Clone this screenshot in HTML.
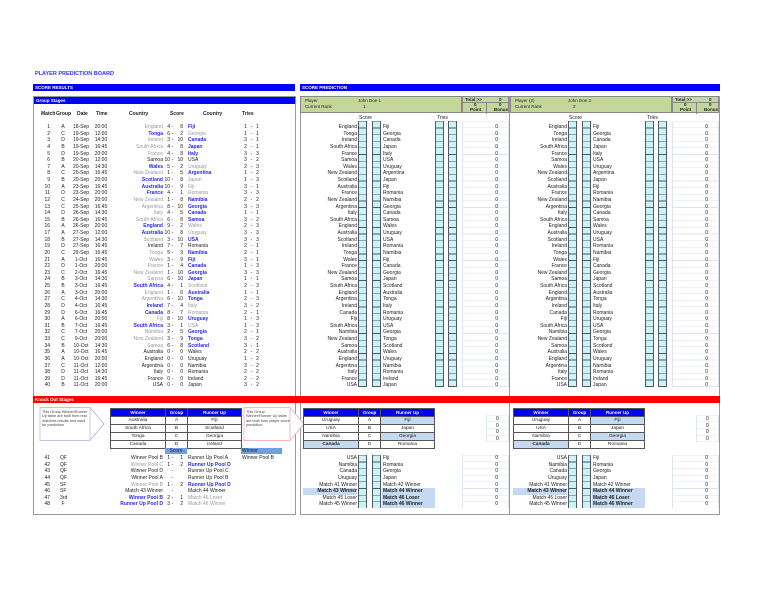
<!DOCTYPE html>
<html><head><meta charset="utf-8"><style>
*{margin:0;padding:0;box-sizing:border-box}
body{width:768px;height:593px;background:#fff;position:relative;overflow:hidden;font-family:"Liberation Sans",sans-serif;font-size:5px;color:#222}
.ab{position:absolute}
.bar{position:absolute;height:7px;color:#fff;font-weight:bold;font-size:4.5px;line-height:7px;padding-left:2px}
.rows{position:absolute;top:124px;left:0;width:300px}
.rows>div{position:relative;height:6.63px;line-height:6.63px;white-space:nowrap}
.rows i{position:absolute;font-style:normal}
.a{left:38px;width:12px;text-align:right}.b{left:60px;width:6px;text-align:center}.c{left:72px;width:18px;text-align:center}.d{left:94px;width:14px;text-align:center}
.e{left:113px;width:50px;text-align:right}.f{left:164px;width:6px;text-align:right}.h{left:171px;width:3px;text-align:center}.j{left:175px;width:8px;text-align:right}.k{left:188px}
.l{left:243px;width:5px;text-align:center}.m{left:249px;width:5px;text-align:center}.n{left:255px;width:5px;text-align:center}
.w{color:#2a2ae8;font-weight:bold}.g{color:#9a9a9a}
.pr{position:absolute;top:124px;width:210px}
.pr>div{position:relative;height:6.63px;line-height:6.63px;white-space:nowrap}
.pr i{position:absolute;font-style:normal}
.ph{left:0;width:57px;text-align:right}.pa{left:83px}.pz{left:192px;width:6px;text-align:right}
.bx{position:absolute;width:9px;border-left:0.7px solid #556;border-right:0.7px solid #556;background:repeating-linear-gradient(#556 0 0.7px,#c8f4f4 0.7px 6.63px)}
.pts{position:absolute;width:47px;background:repeating-linear-gradient(#dce6f2 0 0.6px,transparent 0.6px 6.63px);border-left:0.6px solid #dce6f2;border-right:0.6px solid #dce6f2}
table{border-collapse:collapse;position:absolute;font-size:4.8px}
td{border:0.7px solid #555;text-align:center;height:8px;line-height:7px;padding:0}
th{background:#0000ff;color:#fff;border:0.7px solid #555;height:8px;font-size:4.5px}
.lb{background:#c5d9f1}
.grn{position:absolute;background:#c4d79b;border:0.7px solid #888;font-size:4.5px}
</style></head><body>
<div class="ab" style="left:35px;top:71px;color:#3333ff;font-weight:bold;font-size:5.5px">PLAYER PREDICTION BOARD</div>
<div class="bar" style="left:33px;top:84px;width:262px;background:#0000ff">SCORE RESULTS</div>
<div class="bar" style="left:300px;top:84px;width:420px;background:#0000ff">SCORE PREDICTION</div>
<div class="ab" style="left:33px;top:96px;width:263px;height:419px;border:1px solid #999"></div>
<div class="bar" style="left:34px;top:97px;width:261px;background:#0000ff">Group Stages</div>
<div class="ab" style="left:300px;top:96px;width:420px;height:419px;border:1px solid #999"></div>
<div class="ab" style="left:509px;top:96px;width:1px;height:419px;background:#999"></div>
<div class="ab" style="top:111px;left:0;width:300px;font-weight:bold;line-height:6px">
<span class="ab" style="left:41px">Match</span><span class="ab" style="left:56px">Group</span><span class="ab" style="left:77px">Date</span><span class="ab" style="left:96px">Time</span><span class="ab" style="left:129px">Country</span><span class="ab" style="left:170px">Score</span><span class="ab" style="left:203px">Country</span><span class="ab" style="left:242px">Tries</span></div>
<div class="rows">
<div><i class=a>1</i><i class=b>A</i><i class=c>18-Sep</i><i class=d>20:00</i><i class="e g">England</i><i class=f>4</i><i class=h>-</i><i class=j>8</i><i class="k w">Fiji</i><i class=l>1</i><i class=m>-</i><i class=n>1</i></div>
<div><i class=a>2</i><i class=b>C</i><i class=c>19-Sep</i><i class=d>12:00</i><i class="e w">Tonga</i><i class=f>6</i><i class=h>-</i><i class=j>2</i><i class="k g">Georgia</i><i class=l>1</i><i class=m>-</i><i class=n>1</i></div>
<div><i class=a>3</i><i class=b>D</i><i class=c>19-Sep</i><i class=d>14:30</i><i class="e g">Ireland</i><i class=f>3</i><i class=h>-</i><i class=j>10</i><i class="k w">Canada</i><i class=l>3</i><i class=m>-</i><i class=n>1</i></div>
<div><i class=a>4</i><i class=b>B</i><i class=c>19-Sep</i><i class=d>16:45</i><i class="e g">South Africa</i><i class=f>4</i><i class=h>-</i><i class=j>8</i><i class="k w">Japan</i><i class=l>2</i><i class=m>-</i><i class=n>1</i></div>
<div><i class=a>5</i><i class=b>D</i><i class=c>19-Sep</i><i class=d>20:00</i><i class="e g">France</i><i class=f>4</i><i class=h>-</i><i class=j>8</i><i class="k w">Italy</i><i class=l>3</i><i class=m>-</i><i class=n>3</i></div>
<div><i class=a>6</i><i class=b>B</i><i class=c>20-Sep</i><i class=d>12:00</i><i class=e>Samoa</i><i class=f>10</i><i class=h>-</i><i class=j>10</i><i class=k>USA</i><i class=l>3</i><i class=m>-</i><i class=n>2</i></div>
<div><i class=a>7</i><i class=b>A</i><i class=c>20-Sep</i><i class=d>14:30</i><i class="e w">Wales</i><i class=f>5</i><i class=h>-</i><i class=j>2</i><i class="k g">Uruguay</i><i class=l>2</i><i class=m>-</i><i class=n>3</i></div>
<div><i class=a>8</i><i class=b>C</i><i class=c>20-Sep</i><i class=d>16:45</i><i class="e g">New Zealand</i><i class=f>1</i><i class=h>-</i><i class=j>5</i><i class="k w">Argentina</i><i class=l>1</i><i class=m>-</i><i class=n>2</i></div>
<div><i class=a>9</i><i class=b>B</i><i class=c>20-Sep</i><i class=d>20:00</i><i class="e w">Scotland</i><i class=f>10</i><i class=h>-</i><i class=j>8</i><i class="k g">Japan</i><i class=l>1</i><i class=m>-</i><i class=n>3</i></div>
<div><i class=a>10</i><i class=b>A</i><i class=c>23-Sep</i><i class=d>16:45</i><i class="e w">Australia</i><i class=f>10</i><i class=h>-</i><i class=j>9</i><i class="k g">Fiji</i><i class=l>3</i><i class=m>-</i><i class=n>1</i></div>
<div><i class=a>11</i><i class=b>D</i><i class=c>23-Sep</i><i class=d>20:00</i><i class="e w">France</i><i class=f>4</i><i class=h>-</i><i class=j>1</i><i class="k g">Romania</i><i class=l>3</i><i class=m>-</i><i class=n>3</i></div>
<div><i class=a>12</i><i class=b>C</i><i class=c>24-Sep</i><i class=d>20:00</i><i class="e g">New Zealand</i><i class=f>1</i><i class=h>-</i><i class=j>8</i><i class="k w">Namibia</i><i class=l>2</i><i class=m>-</i><i class=n>2</i></div>
<div><i class=a>13</i><i class=b>C</i><i class=c>25-Sep</i><i class=d>16:45</i><i class="e g">Argentina</i><i class=f>8</i><i class=h>-</i><i class=j>10</i><i class="k w">Georgia</i><i class=l>3</i><i class=m>-</i><i class=n>3</i></div>
<div><i class=a>14</i><i class=b>D</i><i class=c>26-Sep</i><i class=d>14:30</i><i class="e g">Italy</i><i class=f>4</i><i class=h>-</i><i class=j>5</i><i class="k w">Canada</i><i class=l>1</i><i class=m>-</i><i class=n>1</i></div>
<div><i class=a>15</i><i class=b>B</i><i class=c>26-Sep</i><i class=d>16:45</i><i class="e g">South Africa</i><i class=f>6</i><i class=h>-</i><i class=j>8</i><i class="k w">Samoa</i><i class=l>3</i><i class=m>-</i><i class=n>2</i></div>
<div><i class=a>16</i><i class=b>A</i><i class=c>26-Sep</i><i class=d>20:00</i><i class="e w">England</i><i class=f>9</i><i class=h>-</i><i class=j>2</i><i class="k g">Wales</i><i class=l>2</i><i class=m>-</i><i class=n>3</i></div>
<div><i class=a>17</i><i class=b>A</i><i class=c>27-Sep</i><i class=d>12:00</i><i class="e w">Australia</i><i class=f>10</i><i class=h>-</i><i class=j>8</i><i class="k g">Uruguay</i><i class=l>3</i><i class=m>-</i><i class=n>3</i></div>
<div><i class=a>18</i><i class=b>B</i><i class=c>27-Sep</i><i class=d>14:30</i><i class="e g">Scotland</i><i class=f>3</i><i class=h>-</i><i class=j>10</i><i class="k w">USA</i><i class=l>3</i><i class=m>-</i><i class=n>3</i></div>
<div><i class=a>19</i><i class=b>D</i><i class=c>27-Sep</i><i class=d>16:45</i><i class=e>Ireland</i><i class=f>7</i><i class=h>-</i><i class=j>7</i><i class=k>Romania</i><i class=l>2</i><i class=m>-</i><i class=n>1</i></div>
<div><i class=a>20</i><i class=b>C</i><i class=c>29-Sep</i><i class=d>16:45</i><i class="e g">Tonga</i><i class=f>5</i><i class=h>-</i><i class=j>9</i><i class="k w">Namibia</i><i class=l>2</i><i class=m>-</i><i class=n>1</i></div>
<div><i class=a>21</i><i class=b>A</i><i class=c>1-Oct</i><i class=d>16:45</i><i class="e g">Wales</i><i class=f>3</i><i class=h>-</i><i class=j>9</i><i class="k w">Fiji</i><i class=l>3</i><i class=m>-</i><i class=n>1</i></div>
<div><i class=a>22</i><i class=b>D</i><i class=c>1-Oct</i><i class=d>20:00</i><i class="e g">France</i><i class=f>1</i><i class=h>-</i><i class=j>4</i><i class="k w">Canada</i><i class=l>1</i><i class=m>-</i><i class=n>3</i></div>
<div><i class=a>23</i><i class=b>C</i><i class=c>2-Oct</i><i class=d>16:45</i><i class="e g">New Zealand</i><i class=f>1</i><i class=h>-</i><i class=j>10</i><i class="k w">Georgia</i><i class=l>3</i><i class=m>-</i><i class=n>3</i></div>
<div><i class=a>24</i><i class=b>B</i><i class=c>3-Oct</i><i class=d>14:30</i><i class="e g">Samoa</i><i class=f>6</i><i class=h>-</i><i class=j>10</i><i class="k w">Japan</i><i class=l>1</i><i class=m>-</i><i class=n>1</i></div>
<div><i class=a>25</i><i class=b>B</i><i class=c>3-Oct</i><i class=d>16:45</i><i class="e w">South Africa</i><i class=f>4</i><i class=h>-</i><i class=j>1</i><i class="k g">Scotland</i><i class=l>2</i><i class=m>-</i><i class=n>3</i></div>
<div><i class=a>26</i><i class=b>A</i><i class=c>3-Oct</i><i class=d>20:00</i><i class="e g">England</i><i class=f>1</i><i class=h>-</i><i class=j>6</i><i class="k w">Australia</i><i class=l>1</i><i class=m>-</i><i class=n>1</i></div>
<div><i class=a>27</i><i class=b>C</i><i class=c>4-Oct</i><i class=d>14:30</i><i class="e g">Argentina</i><i class=f>6</i><i class=h>-</i><i class=j>10</i><i class="k w">Tonga</i><i class=l>2</i><i class=m>-</i><i class=n>3</i></div>
<div><i class=a>28</i><i class=b>D</i><i class=c>4-Oct</i><i class=d>16:45</i><i class="e w">Ireland</i><i class=f>7</i><i class=h>-</i><i class=j>4</i><i class="k g">Italy</i><i class=l>3</i><i class=m>-</i><i class=n>2</i></div>
<div><i class=a>29</i><i class=b>D</i><i class=c>6-Oct</i><i class=d>16:45</i><i class="e w">Canada</i><i class=f>8</i><i class=h>-</i><i class=j>7</i><i class="k g">Romania</i><i class=l>2</i><i class=m>-</i><i class=n>1</i></div>
<div><i class=a>30</i><i class=b>A</i><i class=c>6-Oct</i><i class=d>20:00</i><i class="e g">Fiji</i><i class=f>8</i><i class=h>-</i><i class=j>10</i><i class="k w">Uruguay</i><i class=l>1</i><i class=m>-</i><i class=n>3</i></div>
<div><i class=a>31</i><i class=b>B</i><i class=c>7-Oct</i><i class=d>16:45</i><i class="e w">South Africa</i><i class=f>3</i><i class=h>-</i><i class=j>1</i><i class="k g">USA</i><i class=l>1</i><i class=m>-</i><i class=n>3</i></div>
<div><i class=a>32</i><i class=b>C</i><i class=c>7-Oct</i><i class=d>20:00</i><i class="e g">Namibia</i><i class=f>2</i><i class=h>-</i><i class=j>5</i><i class="k w">Georgia</i><i class=l>2</i><i class=m>-</i><i class=n>1</i></div>
<div><i class=a>33</i><i class=b>C</i><i class=c>9-Oct</i><i class=d>20:00</i><i class="e g">New Zealand</i><i class=f>3</i><i class=h>-</i><i class=j>9</i><i class="k w">Tonga</i><i class=l>3</i><i class=m>-</i><i class=n>2</i></div>
<div><i class=a>34</i><i class=b>B</i><i class=c>10-Oct</i><i class=d>14:30</i><i class="e g">Samoa</i><i class=f>6</i><i class=h>-</i><i class=j>8</i><i class="k w">Scotland</i><i class=l>3</i><i class=m>-</i><i class=n>1</i></div>
<div><i class=a>35</i><i class=b>A</i><i class=c>10-Oct</i><i class=d>16:45</i><i class=e>Australia</i><i class=f>0</i><i class=h>-</i><i class=j>0</i><i class=k>Wales</i><i class=l>2</i><i class=m>-</i><i class=n>2</i></div>
<div><i class=a>36</i><i class=b>A</i><i class=c>10-Oct</i><i class=d>20:00</i><i class=e>England</i><i class=f>0</i><i class=h>-</i><i class=j>0</i><i class=k>Uruguay</i><i class=l>1</i><i class=m>-</i><i class=n>2</i></div>
<div><i class=a>37</i><i class=b>C</i><i class=c>11-Oct</i><i class=d>12:00</i><i class=e>Argentina</i><i class=f>0</i><i class=h>-</i><i class=j>0</i><i class=k>Namibia</i><i class=l>3</i><i class=m>-</i><i class=n>2</i></div>
<div><i class=a>38</i><i class=b>D</i><i class=c>11-Oct</i><i class=d>14:30</i><i class=e>Italy</i><i class=f>0</i><i class=h>-</i><i class=j>0</i><i class=k>Romania</i><i class=l>2</i><i class=m>-</i><i class=n>2</i></div>
<div><i class=a>39</i><i class=b>D</i><i class=c>11-Oct</i><i class=d>16:45</i><i class=e>France</i><i class=f>0</i><i class=h>-</i><i class=j>0</i><i class=k>Ireland</i><i class=l>2</i><i class=m>-</i><i class=n>2</i></div>
<div><i class=a>40</i><i class=b>B</i><i class=c>11-Oct</i><i class=d>20:00</i><i class=e>USA</i><i class=f>0</i><i class=h>-</i><i class=j>0</i><i class=k>Japan</i><i class=l>3</i><i class=m>-</i><i class=n>2</i></div>
</div>

<div class="grn" style="left:300px;top:96px;width:162px;height:17px"><span class="ab" style="left:4px;top:1px">Player</span><span class="ab" style="left:57px;top:1px">John Doe 1</span><span class="ab" style="left:4px;top:7px">Current Rank</span><span class="ab" style="left:62px;top:7px">1</span></div>
<div class="grn" style="left:462px;top:96px;width:47px;height:17px;font-weight:bold"><span class="ab" style="left:2px;top:0">Total &gt;&gt;</span><span class="ab" style="left:36px;top:0">0</span><span class="ab" style="left:11px;top:5px">0</span><span class="ab" style="left:36px;top:5px">0</span><span class="ab" style="left:7px;top:10px">Point</span><span class="ab" style="left:31px;top:10px">Bonus</span><div class="ab" style="left:0;top:5px;width:47px;height:0.7px;background:#888"></div><div class="ab" style="left:23px;top:5px;width:0.7px;height:12px;background:#888"></div></div>
<div class="grn" style="left:510px;top:96px;width:162px;height:17px"><span class="ab" style="left:4px;top:1px">Player (2)</span><span class="ab" style="left:57px;top:1px">John Doe 2</span><span class="ab" style="left:4px;top:7px">Current Rank</span><span class="ab" style="left:62px;top:7px">2</span></div>
<div class="grn" style="left:672px;top:96px;width:47px;height:17px;font-weight:bold"><span class="ab" style="left:2px;top:0">Total &gt;&gt;</span><span class="ab" style="left:36px;top:0">0</span><span class="ab" style="left:11px;top:5px">0</span><span class="ab" style="left:36px;top:5px">0</span><span class="ab" style="left:7px;top:10px">Point</span><span class="ab" style="left:31px;top:10px">Bonus</span><div class="ab" style="left:0;top:5px;width:47px;height:0.7px;background:#888"></div><div class="ab" style="left:23px;top:5px;width:0.7px;height:12px;background:#888"></div></div>
<div class="ab" style="left:359px;top:115px">Score</div><div class="ab" style="left:437px;top:115px">Tries</div>
<div class="ab" style="left:569px;top:115px">Score</div><div class="ab" style="left:647px;top:115px">Tries</div>

<div class="bx" style="left:358px;top:121px;height:266px"></div><div class="bx" style="left:372px;top:121px;height:266px"></div>
<div class="bx" style="left:435px;top:121px;height:266px"></div><div class="bx" style="left:448px;top:121px;height:266px"></div>
<div class="pts" style="left:462px;top:121px;height:266px"></div>
<div class="bx" style="left:568px;top:121px;height:266px"></div><div class="bx" style="left:582px;top:121px;height:266px"></div>
<div class="bx" style="left:645px;top:121px;height:266px"></div><div class="bx" style="left:658px;top:121px;height:266px"></div>
<div class="pts" style="left:672px;top:121px;height:266px"></div>

<div class="pr" style="left:300px">
<div><i class=ph>England</i><i class=pa>Fiji</i><i class=pz>0</i></div><div><i class=ph>Tonga</i><i class=pa>Georgia</i><i class=pz>0</i></div><div><i class=ph>Ireland</i><i class=pa>Canada</i><i class=pz>0</i></div><div><i class=ph>South Africa</i><i class=pa>Japan</i><i class=pz>0</i></div><div><i class=ph>France</i><i class=pa>Italy</i><i class=pz>0</i></div><div><i class=ph>Samoa</i><i class=pa>USA</i><i class=pz>0</i></div><div><i class=ph>Wales</i><i class=pa>Uruguay</i><i class=pz>0</i></div><div><i class=ph>New Zealand</i><i class=pa>Argentina</i><i class=pz>0</i></div><div><i class=ph>Scotland</i><i class=pa>Japan</i><i class=pz>0</i></div><div><i class=ph>Australia</i><i class=pa>Fiji</i><i class=pz>0</i></div>
<div><i class=ph>France</i><i class=pa>Romania</i><i class=pz>0</i></div><div><i class=ph>New Zealand</i><i class=pa>Namibia</i><i class=pz>0</i></div><div><i class=ph>Argentina</i><i class=pa>Georgia</i><i class=pz>0</i></div><div><i class=ph>Italy</i><i class=pa>Canada</i><i class=pz>0</i></div><div><i class=ph>South Africa</i><i class=pa>Samoa</i><i class=pz>0</i></div><div><i class=ph>England</i><i class=pa>Wales</i><i class=pz>0</i></div><div><i class=ph>Australia</i><i class=pa>Uruguay</i><i class=pz>0</i></div><div><i class=ph>Scotland</i><i class=pa>USA</i><i class=pz>0</i></div><div><i class=ph>Ireland</i><i class=pa>Romania</i><i class=pz>0</i></div><div><i class=ph>Tonga</i><i class=pa>Namibia</i><i class=pz>0</i></div>
<div><i class=ph>Wales</i><i class=pa>Fiji</i><i class=pz>0</i></div><div><i class=ph>France</i><i class=pa>Canada</i><i class=pz>0</i></div><div><i class=ph>New Zealand</i><i class=pa>Georgia</i><i class=pz>0</i></div><div><i class=ph>Samoa</i><i class=pa>Japan</i><i class=pz>0</i></div><div><i class=ph>South Africa</i><i class=pa>Scotland</i><i class=pz>0</i></div><div><i class=ph>England</i><i class=pa>Australia</i><i class=pz>0</i></div><div><i class=ph>Argentina</i><i class=pa>Tonga</i><i class=pz>0</i></div><div><i class=ph>Ireland</i><i class=pa>Italy</i><i class=pz>0</i></div><div><i class=ph>Canada</i><i class=pa>Romania</i><i class=pz>0</i></div><div><i class=ph>Fiji</i><i class=pa>Uruguay</i><i class=pz>0</i></div>
<div><i class=ph>South Africa</i><i class=pa>USA</i><i class=pz>0</i></div><div><i class=ph>Namibia</i><i class=pa>Georgia</i><i class=pz>0</i></div><div><i class=ph>New Zealand</i><i class=pa>Tonga</i><i class=pz>0</i></div><div><i class=ph>Samoa</i><i class=pa>Scotland</i><i class=pz>0</i></div><div><i class=ph>Australia</i><i class=pa>Wales</i><i class=pz>0</i></div><div><i class=ph>England</i><i class=pa>Uruguay</i><i class=pz>0</i></div><div><i class=ph>Argentina</i><i class=pa>Namibia</i><i class=pz>0</i></div><div><i class=ph>Italy</i><i class=pa>Romania</i><i class=pz>0</i></div><div><i class=ph>France</i><i class=pa>Ireland</i><i class=pz>0</i></div><div><i class=ph>USA</i><i class=pa>Japan</i><i class=pz>0</i></div>
</div>
<div class="pr" style="left:510px">
<div><i class=ph>England</i><i class=pa>Fiji</i><i class=pz>0</i></div><div><i class=ph>Tonga</i><i class=pa>Georgia</i><i class=pz>0</i></div><div><i class=ph>Ireland</i><i class=pa>Canada</i><i class=pz>0</i></div><div><i class=ph>South Africa</i><i class=pa>Japan</i><i class=pz>0</i></div><div><i class=ph>France</i><i class=pa>Italy</i><i class=pz>0</i></div><div><i class=ph>Samoa</i><i class=pa>USA</i><i class=pz>0</i></div><div><i class=ph>Wales</i><i class=pa>Uruguay</i><i class=pz>0</i></div><div><i class=ph>New Zealand</i><i class=pa>Argentina</i><i class=pz>0</i></div><div><i class=ph>Scotland</i><i class=pa>Japan</i><i class=pz>0</i></div><div><i class=ph>Australia</i><i class=pa>Fiji</i><i class=pz>0</i></div>
<div><i class=ph>France</i><i class=pa>Romania</i><i class=pz>0</i></div><div><i class=ph>New Zealand</i><i class=pa>Namibia</i><i class=pz>0</i></div><div><i class=ph>Argentina</i><i class=pa>Georgia</i><i class=pz>0</i></div><div><i class=ph>Italy</i><i class=pa>Canada</i><i class=pz>0</i></div><div><i class=ph>South Africa</i><i class=pa>Samoa</i><i class=pz>0</i></div><div><i class=ph>England</i><i class=pa>Wales</i><i class=pz>0</i></div><div><i class=ph>Australia</i><i class=pa>Uruguay</i><i class=pz>0</i></div><div><i class=ph>Scotland</i><i class=pa>USA</i><i class=pz>0</i></div><div><i class=ph>Ireland</i><i class=pa>Romania</i><i class=pz>0</i></div><div><i class=ph>Tonga</i><i class=pa>Namibia</i><i class=pz>0</i></div>
<div><i class=ph>Wales</i><i class=pa>Fiji</i><i class=pz>0</i></div><div><i class=ph>France</i><i class=pa>Canada</i><i class=pz>0</i></div><div><i class=ph>New Zealand</i><i class=pa>Georgia</i><i class=pz>0</i></div><div><i class=ph>Samoa</i><i class=pa>Japan</i><i class=pz>0</i></div><div><i class=ph>South Africa</i><i class=pa>Scotland</i><i class=pz>0</i></div><div><i class=ph>England</i><i class=pa>Australia</i><i class=pz>0</i></div><div><i class=ph>Argentina</i><i class=pa>Tonga</i><i class=pz>0</i></div><div><i class=ph>Ireland</i><i class=pa>Italy</i><i class=pz>0</i></div><div><i class=ph>Canada</i><i class=pa>Romania</i><i class=pz>0</i></div><div><i class=ph>Fiji</i><i class=pa>Uruguay</i><i class=pz>0</i></div>
<div><i class=ph>South Africa</i><i class=pa>USA</i><i class=pz>0</i></div><div><i class=ph>Namibia</i><i class=pa>Georgia</i><i class=pz>0</i></div><div><i class=ph>New Zealand</i><i class=pa>Tonga</i><i class=pz>0</i></div><div><i class=ph>Samoa</i><i class=pa>Scotland</i><i class=pz>0</i></div><div><i class=ph>Australia</i><i class=pa>Wales</i><i class=pz>0</i></div><div><i class=ph>England</i><i class=pa>Uruguay</i><i class=pz>0</i></div><div><i class=ph>Argentina</i><i class=pa>Namibia</i><i class=pz>0</i></div><div><i class=ph>Italy</i><i class=pa>Romania</i><i class=pz>0</i></div><div><i class=ph>France</i><i class=pa>Ireland</i><i class=pz>0</i></div><div><i class=ph>USA</i><i class=pa>Japan</i><i class=pz>0</i></div>
</div>

<div class="bar" style="left:33px;top:396px;width:687px;background:#ff0000">Knock Out Stages</div>
<svg class="ab" style="left:38px;top:406px" width="70" height="40"><path d="M2 1.5 H52 L66 18 L52 34.5 H2 Z" fill="#fff" stroke="#aab0e8" stroke-width="0.7"/><line x1="52" y1="1.5" x2="52" y2="34.5" stroke="#aab0e8" stroke-width="0.7"/></svg>
<svg class="ab" style="left:242px;top:406px" width="66" height="40"><path d="M2 1.5 H48 L62 18 L48 34.5 H2 Z" fill="#fff" stroke="#f2a0a0" stroke-width="0.7"/><line x1="48" y1="1.5" x2="48" y2="34.5" stroke="#f2a0a0" stroke-width="0.7"/></svg>
<div class="ab" style="left:42px;top:410px;width:48px;font-size:3.8px;line-height:4.3px;color:#444">This Group Winner/Runner Up table are built from real matches results and used for prediction</div>
<div class="ab" style="left:246px;top:410px;width:44px;font-size:3.8px;line-height:4.3px;color:#444">This Group Winner/Runner Up table are built from player score prediction</div>
<table style="left:110px;top:408px;width:132px"><tr><th style="width:55px">Winner</th><th style="width:22px">Group</th><th>Runner Up</th></tr>
<tr><td>Australia</td><td>A</td><td>Fiji</td></tr><tr><td>South Africa</td><td>B</td><td>Scotland</td></tr><tr><td>Tonga</td><td>C</td><td>Georgia</td></tr><tr><td>Canada</td><td>D</td><td>Ireland</td></tr></table>
<table style="left:303px;top:408px;width:132px"><tr><th style="width:55px">Winner</th><th style="width:22px">Group</th><th>Runner Up</th></tr>
<tr><td>Uruguay</td><td>A</td><td class=lb>Fiji</td></tr><tr><td>USA</td><td>B</td><td>Japan</td></tr><tr><td>Namibia</td><td>C</td><td class=lb>Georgia</td></tr><tr><td class=lb><b>Canada</b></td><td>D</td><td>Romania</td></tr></table>
<table style="left:513px;top:408px;width:132px"><tr><th style="width:55px">Winner</th><th style="width:22px">Group</th><th>Runner Up</th></tr>
<tr><td>Uruguay</td><td>A</td><td class=lb>Fiji</td></tr><tr><td>USA</td><td>B</td><td>Japan</td></tr><tr><td>Namibia</td><td>C</td><td class=lb>Georgia</td></tr><tr><td class=lb><b>Canada</b></td><td>D</td><td>Romania</td></tr></table>
<div class="pts" style="left:486px;top:415px;width:23px;height:27px"></div>
<div class="ab" style="left:496px;top:416px;line-height:6.63px">0<br>0<br>0<br>0</div>
<div class="pts" style="left:696px;top:415px;width:23px;height:27px"></div>
<div class="ab" style="left:706px;top:416px;line-height:6.63px">0<br>0<br>0<br>0</div>

<div class="ab" style="left:165px;top:448px;width:22px;height:6px;background:#6fa0dc;text-align:center;line-height:6px">Score</div>
<div class="ab" style="left:241px;top:448px;width:41px;height:6px;background:#6fa0dc;padding-left:1px;line-height:6px">Winner</div>
<div class="ab" style="left:242px;top:455px;line-height:6.63px">Winner Pool B</div>
<div class="rows" style="top:455px">
<div><i class=a>41</i><i class=b>QF</i><i class=e style="left:83px;width:80px">Winner Pool B</i><i class=f>1</i><i class=h>-</i><i class=j>1</i><i class=k>Runner Up Pool A</i></div>
<div><i class=a>42</i><i class=b>QF</i><i class="e g" style="left:83px;width:80px">Winner Pool C</i><i class=f>1</i><i class=h>-</i><i class=j>2</i><i class="k w">Runner Up Pool D</i></div>
<div><i class=a>43</i><i class=b>QF</i><i class=e style="left:83px;width:80px">Winner Pool D</i><i class=h>-</i><i class=k>Runner Up Pool C</i></div>
<div><i class=a>44</i><i class=b>QF</i><i class=e style="left:83px;width:80px">Winner Pool A</i><i class=h>-</i><i class=k>Runner Up Pool B</i></div>
<div><i class=a>45</i><i class=b>SF</i><i class="e g" style="left:83px;width:80px">Winner Pool B</i><i class=f>1</i><i class=h>-</i><i class=j>2</i><i class="k w">Runner Up Pool D</i></div>
<div><i class=a>46</i><i class=b>SF</i><i class=e style="left:83px;width:80px">Match 43 Winner</i><i class=h>-</i><i class=k>Match 44 Winner</i></div>
<div><i class=a>47</i><i class=b>3rd</i><i class="e w" style="left:83px;width:80px">Winner Pool B</i><i class=f>2</i><i class=h>-</i><i class=j>1</i><i class="k g">Match 46 Loser</i></div>
<div><i class=a>48</i><i class=b>F</i><i class="e w" style="left:83px;width:80px">Runner Up Pool D</i><i class=f>3</i><i class=h>-</i><i class=j>2</i><i class="k g">Match 46 Winner</i></div>
</div>

<div class="ab lb" style="left:303px;top:488px;width:54px;height:6.63px"></div><div class="ab lb" style="left:382px;top:488px;width:53px;height:20px"></div>
<div class="ab lb" style="left:513px;top:488px;width:54px;height:6.63px"></div><div class="ab lb" style="left:592px;top:488px;width:53px;height:20px"></div>
<div class="bx" style="left:358px;top:455px;height:53px"></div><div class="bx" style="left:372px;top:455px;height:53px"></div>
<div class="pts" style="left:462px;top:455px;height:53px"></div>
<div class="bx" style="left:568px;top:455px;height:53px"></div><div class="bx" style="left:582px;top:455px;height:53px"></div>
<div class="pts" style="left:672px;top:455px;height:53px"></div>
<div class="pr" style="left:300px;top:455px">
<div><i class=ph>USA</i><i class=pa>Fiji</i><i class=pz>0</i></div><div><i class=ph>Namibia</i><i class=pa>Romania</i><i class=pz>0</i></div><div><i class=ph>Canada</i><i class=pa>Georgia</i><i class=pz>0</i></div><div><i class=ph>Uruguay</i><i class=pa>Japan</i><i class=pz>0</i></div><div><i class=ph>Match 41 Winner</i><i class=pa>Match 42 Winner</i><i class=pz>0</i></div><div><i class=ph><b>Match 43 Winner</b></i><i class=pa><b>Match 44 Winner</b></i><i class=pz>0</i></div><div><i class=ph>Match 45 Loser</i><i class=pa><b>Match 46 Loser</b></i><i class=pz>0</i></div><div><i class=ph>Match 45 Winner</i><i class=pa><b>Match 46 Winner</b></i><i class=pz>0</i></div>
</div>
<div class="pr" style="left:510px;top:455px">
<div><i class=ph>USA</i><i class=pa>Fiji</i><i class=pz>0</i></div><div><i class=ph>Namibia</i><i class=pa>Romania</i><i class=pz>0</i></div><div><i class=ph>Canada</i><i class=pa>Georgia</i><i class=pz>0</i></div><div><i class=ph>Uruguay</i><i class=pa>Japan</i><i class=pz>0</i></div><div><i class=ph>Match 41 Winner</i><i class=pa>Match 42 Winner</i><i class=pz>0</i></div><div><i class=ph><b>Match 43 Winner</b></i><i class=pa><b>Match 44 Winner</b></i><i class=pz>0</i></div><div><i class=ph>Match 45 Loser</i><i class=pa><b>Match 46 Loser</b></i><i class=pz>0</i></div><div><i class=ph>Match 45 Winner</i><i class=pa><b>Match 46 Winner</b></i><i class=pz>0</i></div>
</div>
</body></html>
